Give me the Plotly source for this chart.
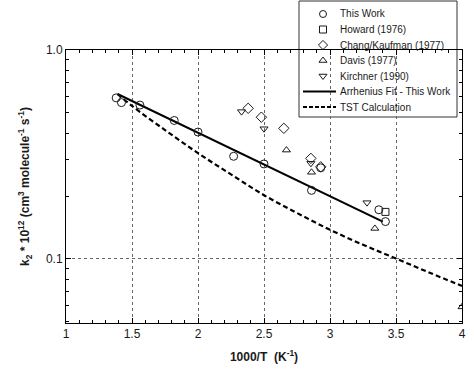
import plotly.graph_objects as go
import math

# ---------------- data ----------------
this_work_x = [1.38, 1.42, 1.56, 1.82, 2.00, 2.27, 2.50, 2.86, 2.93, 3.37, 3.42]
this_work_y = [0.590, 0.560, 0.545, 0.460, 0.405, 0.310, 0.285, 0.213, 0.273, 0.172, 0.151]

howard_x = [3.42]
howard_y = [0.168]

chang_x = [2.38, 2.48, 2.65, 2.855, 2.93]
chang_y = [0.526, 0.477, 0.422, 0.303, 0.276]

davis_x = [2.67, 2.86, 3.34, 4.00]
davis_y = [0.332, 0.260, 0.140, 0.059]

kirchner_x = [2.33, 2.50, 2.855, 3.28]
kirchner_y = [0.507, 0.420, 0.287, 0.186]

fit_x = [1.39, 3.40]
fit_y = [0.616, 0.151]

tst_x = [1.39, 1.50, 1.75, 2.00, 2.25, 2.50, 2.75, 3.00, 3.25, 3.50, 3.75, 4.00]
tst_y = [0.616, 0.540, 0.414, 0.321, 0.254, 0.202, 0.166, 0.138, 0.117, 0.1005, 0.0862, 0.0743]

x_tickvals = [1, 1.5, 2, 2.5, 3, 3.5, 4]
x_ticktext = ["1", "1.5", "2", "2.5", "3", "3.5", "4"]
y_tickvals = [0.1, 1.0]
y_ticktext = ["0.1", "1.0"]
y_minor = [0.05, 0.06, 0.07, 0.08, 0.09, 0.2, 0.3, 0.4, 0.5, 0.6, 0.7, 0.8, 0.9]

legend_names = ["This Work", "Howard (1976)", "Chang/Kaufman (1977)", "Davis (1977)",
                "Kirchner (1990)", "Arrhenius Fit - This Work", "TST Calculation"]
legend_symbols = ["circle-open", "square-open", "diamond-open", "triangle-up-open", "triangle-down-open"]

# ---------------- layout geometry ----------------
W, H = 474, 372
L, R, T, B = 66, 12, 50, 49
PW = W - L - R
PAPER_H = H - B            # paper area runs from the top edge down to the x axis
PLOT_TOP_FRAC = (H - B - T) / PAPER_H

def pxx(px):
    return (px - L) / PW

def pyy(py):
    return (PAPER_H - py) / PAPER_H

INK = "#1a1a1a"
FONT = "Liberation Sans, Arial, Helvetica, sans-serif"

fig = go.Figure()

fig.add_trace(go.Scatter(x=fit_x, y=fit_y, mode="lines",
                         line=dict(color="black", width=2), showlegend=False))
fig.add_trace(go.Scatter(x=tst_x, y=tst_y, mode="lines",
                         line=dict(color="black", width=2.2, dash="5px,3px"),
                         line_shape="spline", showlegend=False))

for xs, ys, sym, sz in [(this_work_x, this_work_y, "circle-open", 8),
                        (howard_x, howard_y, "square-open", 7),
                        (chang_x, chang_y, "diamond-open", 8),
                        (davis_x, davis_y, "triangle-up-open", 7),
                        (kirchner_x, kirchner_y, "triangle-down-open", 7)]:
    fig.add_trace(go.Scatter(x=xs, y=ys, mode="markers", showlegend=False,
                             marker=dict(symbol=sym, size=sz, color=INK,
                                         line=dict(color=INK, width=1))))

# ---------------- hand-drawn legend box (its own hidden subplot) ----------------
leg_left, leg_right, leg_top, leg_bot = 299, 457, 1, 117
item_y = [14, 29.5, 45, 60.5, 76, 91.5, 107]
sym_x = 323
text_x = 338

fig.add_trace(go.Scatter(x=[sym_x] * 5, y=item_y[:5], mode="markers",
                         xaxis="x2", yaxis="y2", cliponaxis=False, showlegend=False,
                         marker=dict(symbol=legend_symbols, size=7, color=INK,
                                     line=dict(color=INK, width=1))))

shapes = [
    dict(type="rect", xref="paper", yref="paper",
         x0=pxx(leg_left), x1=pxx(leg_right), y0=pyy(leg_bot), y1=pyy(leg_top),
         line=dict(color="#333", width=1), fillcolor="white", layer="between"),
    dict(type="line", xref="paper", yref="paper",
         x0=pxx(303), x1=pxx(336), y0=pyy(item_y[5]), y1=pyy(item_y[5]),
         line=dict(color="black", width=2), layer="above"),
    dict(type="line", xref="paper", yref="paper",
         x0=pxx(303), x1=pxx(336), y0=pyy(item_y[6]), y1=pyy(item_y[6]),
         line=dict(color="black", width=2, dash="4px,2px"), layer="above"),
]

annotations = []
for name, yy in zip(legend_names, item_y):
    annotations.append(dict(xref="paper", yref="paper", x=pxx(text_x), y=pyy(yy),
                            text=name, showarrow=False, xanchor="left", yanchor="middle",
                            font=dict(family=FONT, size=10, color=INK)))

axis_common = dict(showline=True, linecolor="black", linewidth=1, mirror="ticks",
                   ticks="inside", ticklen=5, tickcolor="black",
                   showgrid=True, gridcolor="#666", griddash="dot", gridwidth=1,
                   zeroline=False, tickfont=dict(family=FONT, size=12, color=INK))

fig.update_layout(
    width=W, height=H,
    margin=dict(l=L, r=R, t=0, b=B, autoexpand=False),
    paper_bgcolor="white", plot_bgcolor="rgba(0,0,0,0)",
    font=dict(family=FONT, color=INK),
    xaxis=dict(range=[1, 4], tickmode="array", tickvals=x_tickvals, ticktext=x_ticktext,
               minor=dict(dtick=0.1, ticks="inside", ticklen=3, tickcolor="black", showgrid=False),
               title=dict(text="<b>1000/T  (K<sup>-1</sup>)</b>", standoff=12,
                          font=dict(family=FONT, size=12, color=INK)),
               anchor="y", **axis_common),
    yaxis=dict(type="log", range=[math.log10(0.0494), 0], domain=[0, PLOT_TOP_FRAC],
               anchor="x",
               tickmode="array", tickvals=y_tickvals, ticktext=y_ticktext,
               minor=dict(tickmode="array", tickvals=y_minor, ticks="inside", ticklen=3,
                          tickcolor="black", showgrid=False),
               title=dict(text="<b>k<sub>2</sub> * 10<sup>12</sup> (cm<sup>3</sup> molecule<sup>-1</sup> s<sup>-1</sup>)</b>",
                          standoff=13, font=dict(family=FONT, size=12, color=INK)),
               **axis_common),
    xaxis2=dict(domain=[pxx(leg_left), pxx(leg_right)], range=[leg_left, leg_right],
                anchor="y2", visible=False),
    yaxis2=dict(domain=[pyy(leg_bot), pyy(leg_top)], range=[leg_bot, leg_top],
                anchor="x2", visible=False),
    shapes=shapes,
    annotations=annotations,
    showlegend=False,
)

fig.write_html("out.html", config={"displayModeBar": False, "staticPlot": True},
               post_script="document.body.style.margin='0';document.body.style.padding='0';")
